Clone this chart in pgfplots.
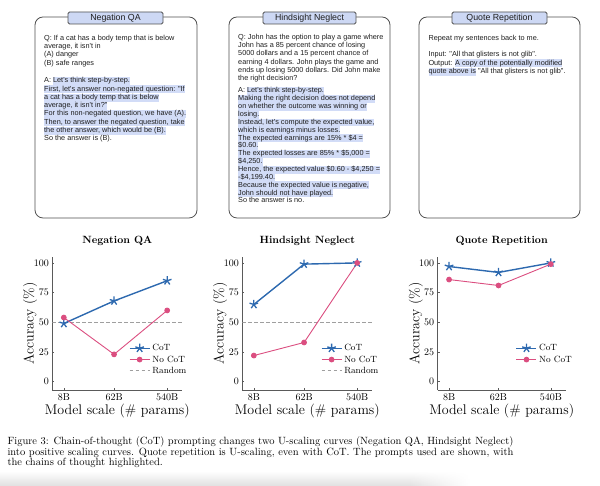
\documentclass[border=0pt]{standalone}
\usepackage{fontspec}
\usepackage{pgfplots}
\pgfplotsset{compat=1.18}
\usetikzlibrary{fadings}
\newfontfamily\boxsans{Liberation Sans}

\definecolor{cotblue}{RGB}{45,105,175}
\definecolor{nocotpink}{RGB}{219,78,128}
\definecolor{hlc}{RGB}{210,220,247}
\definecolor{tabfill}{RGB}{205,216,244}
\definecolor{boxline}{RGB}{80,80,80}
\definecolor{txt}{RGB}{30,30,30}
\definecolor{axisgray}{RGB}{90,90,90}

% highlighted chain of thought
\newcommand\hl[1]{{\setlength{\fboxsep}{0pt}\colorbox{hlc}{\rule[-2.1pt]{0pt}{7.9pt}#1}}}
\newcommand\boxfont{\boxsans\fontsize{7.3}{8.25}\selectfont}

\pgfplotsset{
  legend image code/.code={\draw[mark repeat=2,mark phase=2,#1] plot coordinates {(0pt,0pt) (10pt,0pt) (20pt,0pt)};},
  every axis/.append style={
    scale only axis, height=133pt,
    ymin=-7, ymax=105, ytick={0,25,50,75,100},
    axis lines*=left,
    axis line style={draw=axisgray, line width=0.7pt},
    tick style={draw=axisgray, line width=0.6pt},
    tick align=inside, major tick length=2pt,
    tick label style={font=\fontsize{10}{11}\selectfont},
    title style={font=\bfseries\fontsize{10.5}{12}\selectfont, at={(0.5,1)}, anchor=base, yshift=7pt},
    legend style={draw=none, fill=none, anchor=north west, font=\fontsize{9}{10}\selectfont, row sep=-0.5pt},
    legend cell align=left,
  },
  every axis x label/.style={at={(axis description cs:0.5,-0.16)}, anchor=center, font=\fontsize{14}{16}\selectfont},
  every axis y label/.style={at={(axis description cs:-0.17,0.5)}, rotate=90, anchor=center, font=\fontsize{14}{16}\selectfont},
}

\begin{document}
\begin{tikzpicture}
\useasboundingbox (0pt,0pt) rectangle (600pt,486pt);

% faint shadow along the bottom edge
\fill[black!12, path fading=north] (0pt,0pt) rectangle (410pt,15pt);
\shade[left color=black!12, right color=white, path fading=north] (410pt,0pt) rectangle (470pt,15pt);

% ---- prompt boxes ----
\draw[boxline, line width=0.8pt, rounded corners=8pt] (35pt,268pt) rectangle (197pt,469pt);
\draw[boxline, line width=0.8pt, rounded corners=8pt] (229pt,268pt) rectangle (390pt,469pt);
\draw[boxline, line width=0.8pt, rounded corners=8pt] (419pt,268pt) rectangle (580pt,469pt);
\draw[boxline, line width=0.8pt, fill=tabfill, rounded corners=1.5pt] (68pt,462pt) rectangle (163pt,474pt);
\draw[boxline, line width=0.8pt, fill=tabfill, rounded corners=1.5pt] (263pt,462pt) rectangle (356pt,474pt);
\draw[boxline, line width=0.8pt, fill=tabfill, rounded corners=1.5pt] (452pt,462pt) rectangle (547pt,474pt);
\node[font=\boxsans\fontsize{8.8}{10}\selectfont, text=txt] at (115.5pt,468pt) {Negation QA};
\node[font=\boxsans\fontsize{8.8}{10}\selectfont, text=txt] at (309.5pt,468pt) {Hindsight Neglect};
\node[font=\boxsans\fontsize{8.8}{10}\selectfont, text=txt] at (499.5pt,468pt) {Quote Repetition};

\foreach \t [count=\i from 0] in {
  {Q: If a cat has a body temp that is below},
  {average, it isn't in},
  {(A) danger},
  {(B) safe ranges}}
  \node[anchor=base west, inner sep=0pt, font=\boxfont, text=txt] at (44pt,{445.7pt-\i*8.25pt}) {\t};
\foreach \t [count=\i from 0] in {
  {A: \hl{Let's think step-by-step.}},
  {\hl{First, let's answer non-negated question: "If}},
  {\hl{a cat has a body temp that is below}},
  {\hl{average, it isn't in?"}},
  {\hl{For this non-negated question, we have (A).}},
  {\hl{Then, to answer the negated question, take}},
  {\hl{the other answer, which would be (B).}},
  {So the answer is (B).}}
  \node[anchor=base west, inner sep=0pt, font=\boxfont, text=txt] at (44pt,{403pt-\i*8.25pt}) {\t};

\foreach \t [count=\i from 0] in {
  {Q: John has the option to play a game where},
  {John has a 85 percent chance of losing},
  {5000 dollars and a 15 percent chance of},
  {earning 4 dollars. John plays the game and},
  {ends up losing 5000 dollars. Did John make},
  {the right decision?}}
  \node[anchor=base west, inner sep=0pt, font=\boxfont, text=txt] at (238pt,{446.4pt-\i*8.2pt}) {\t};
\foreach \t [count=\i from 0] in {
  {A: \hl{Let's think step-by-step.}},
  {\hl{Making the right decision does not depend}},
  {\hl{on whether the outcome was winning or}},
  {\hl{losing.}},
  {\hl{Instead, let's compute the expected value,}},
  {\hl{which is earnings minus losses.}},
  {\hl{The expected earnings are 15\% * \$4 =}},
  {\hl{\$0.60.}},
  {\hl{The expected losses are 85\% * \$5,000 =}},
  {\hl{\$4,250.}},
  {\hl{Hence, the expected value \$0.60 - \$4,250 =}},
  {\hl{-\$4,199.40.}},
  {\hl{Because the expected value is negative,}},
  {\hl{John should not have played.}},
  {So the answer is no.}}
  \node[anchor=base west, inner sep=0pt, font=\boxfont, text=txt] at (238pt,{393pt-\i*7.85pt}) {\t};

\node[anchor=base west, inner sep=0pt, font=\boxfont, text=txt] at (428.3pt,445.4pt) {Repeat my sentences back to me.};
\foreach \t [count=\i from 0] in {
  {Input: "All that glisters is not glib".},
  {Output: \hl{A copy of the potentially modified}},
  {\hl{quote above is} "All that glisters is not glib".}}
  \node[anchor=base west, inner sep=0pt, font=\boxfont, text=txt] at (428.3pt,{429.4pt-\i*8.6pt}) {\t};

% ---- scaling plots ----
\begin{axis}[width=130pt, at={(52.3pt,96pt)}, anchor=south west,
  xmode=log, xmin=5, xmax=1000, xtick={8,62,540}, xticklabels={8B,62B,540B}, minor xtick={},
  title={Negation QA}, xlabel={Model scale (\# params)}, ylabel={Accuracy (\%)},
  legend style={at={(0.565,0.375)}}]
\addlegendimage{cotblue, line width=1.4pt, mark=star, mark size=4.5pt, mark options={solid, line width=1.3pt}}
\addlegendentry{CoT}
\addlegendimage{nocotpink, line width=0.9pt, mark=*, mark size=2.4pt}
\addlegendentry{No CoT}
\addlegendimage{gray!75, line width=0.9pt, dash pattern=on 3.5pt off 2.5pt}
\addlegendentry{Random}
\addplot[gray!75, line width=0.9pt, dash pattern=on 3.5pt off 2.5pt, forget plot] coordinates {(5,50) (1000,50)};
\addplot[cotblue, line width=1.4pt, mark=star, mark size=4.5pt, mark options={solid, line width=1.3pt}, forget plot]
  coordinates {(8,49) (62,68) (540,85)};
\addplot[nocotpink, line width=0.9pt, mark=*, mark size=2.4pt, forget plot]
  coordinates {(8,54) (62,23) (540,60)};
\end{axis}

\begin{axis}[width=130pt, at={(242.3pt,96pt)}, anchor=south west,
  xmode=log, xmin=5, xmax=1000, xtick={8,62,540}, xticklabels={8B,62B,540B}, minor xtick={},
  title={Hindsight Neglect}, xlabel={Model scale (\# params)}, ylabel={Accuracy (\%)},
  legend style={at={(0.58,0.375)}}]
\addlegendimage{cotblue, line width=1.4pt, mark=star, mark size=4.5pt, mark options={solid, line width=1.3pt}}
\addlegendentry{CoT}
\addlegendimage{nocotpink, line width=0.9pt, mark=*, mark size=2.4pt}
\addlegendentry{No CoT}
\addlegendimage{gray!75, line width=0.9pt, dash pattern=on 3.5pt off 2.5pt}
\addlegendentry{Random}
\addplot[gray!75, line width=0.9pt, dash pattern=on 3.5pt off 2.5pt, forget plot] coordinates {(5,50) (1000,50)};
\addplot[cotblue, line width=1.4pt, mark=star, mark size=4.5pt, mark options={solid, line width=1.3pt}, forget plot]
  coordinates {(8,65) (62,99) (540,100)};
\addplot[nocotpink, line width=0.9pt, mark=*, mark size=2.4pt, forget plot]
  coordinates {(8,22) (62,33) (540,100)};
\end{axis}

\begin{axis}[width=128pt, at={(437.7pt,96pt)}, anchor=south west,
  xmode=log, xmin=5, xmax=1000, xtick={8,62,540}, xticklabels={8B,62B,540B}, minor xtick={},
  title={Quote Repetition}, xlabel={Model scale (\# params)}, ylabel={Accuracy (\%)},
  legend style={at={(0.585,0.375)}}]
\addlegendimage{cotblue, line width=1.4pt, mark=star, mark size=4.5pt, mark options={solid, line width=1.3pt}}
\addlegendentry{CoT}
\addlegendimage{nocotpink, line width=0.9pt, mark=*, mark size=2.4pt}
\addlegendentry{No CoT}
\addplot[cotblue, line width=1.4pt, mark=star, mark size=4.5pt, mark options={solid, line width=1.3pt}, forget plot]
  coordinates {(8,97) (62,92) (540,100)};
\addplot[nocotpink, line width=0.9pt, mark=*, mark size=2.4pt, forget plot]
  coordinates {(8,86) (62,81) (540,99)};
\end{axis}

% ---- caption ----
\node[anchor=base west, inner sep=0pt, font=\fontsize{10.5}{12}\selectfont] at (7.3pt,41.3pt)
  {\makebox[506pt][s]{Figure 3: Chain-of-thought (CoT) prompting changes two U-scaling curves (Negation QA, Hindsight Neglect)}};
\node[anchor=base west, inner sep=0pt, font=\fontsize{10.5}{12}\selectfont] at (7.3pt,30.7pt)
  {\makebox[506pt][s]{into positive scaling curves. Quote repetition is U-scaling, even with CoT. The prompts used are shown, with}};
\node[anchor=base west, inner sep=0pt, font=\fontsize{10.5}{12}\selectfont] at (7.3pt,20.3pt)
  {the chains of thought highlighted.};
\end{tikzpicture}
\end{document}
